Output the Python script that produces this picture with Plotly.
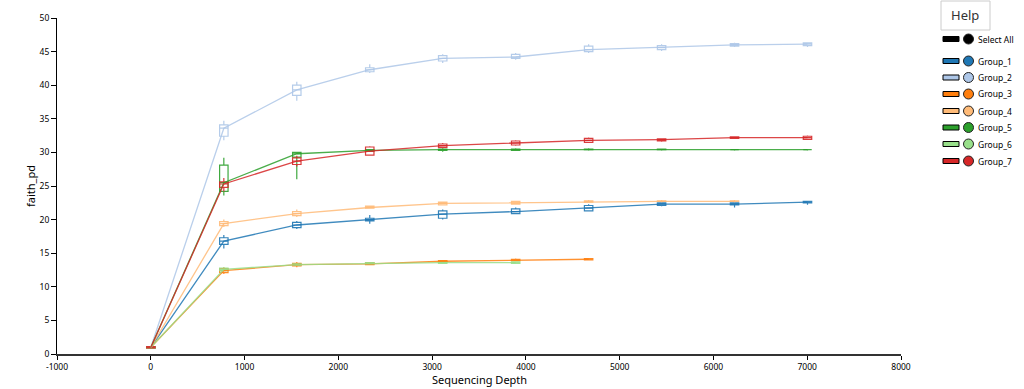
import plotly.graph_objects as go

# ---------------- data ----------------
DEPTHS = [1, 779, 1557, 2335, 3113, 3891, 4669, 5447, 6225, 7003]
GROUPS = ["Group_1", "Group_2", "Group_3", "Group_4", "Group_5", "Group_6", "Group_7"]
COLORS = ["#1f77b4", "#aec7e8", "#ff7f0e", "#ffbb78", "#2ca02c", "#98df8a", "#d62728"]

MEDIAN = {
    "Group_1": [1.0, 16.8, 19.2, 20.0, 20.8, 21.2, 21.7, 22.3, 22.3, 22.6],
    "Group_2": [1.0, 33.6, 39.3, 42.3, 44.0, 44.2, 45.3, 45.6, 46.0, 46.1],
    "Group_3": [1.0, 12.4, 13.3, 13.4, 13.8, 14.0, 14.1],
    "Group_4": [1.0, 19.4, 20.9, 21.8, 22.4, 22.5, 22.7, 22.7, 22.7],
    "Group_5": [1.0, 25.5, 29.8, 30.3, 30.4, 30.4, 30.4, 30.4, 30.4, 30.4],
    "Group_6": [1.0, 12.6, 13.3, 13.5, 13.6, 13.6],
    "Group_7": [1.0, 25.3, 28.7, 30.2, 31.0, 31.4, 31.8, 31.9, 32.2, 32.2],
}
Q1 = {
    "Group_1": [0.9, 16.3, 18.8, 19.8, 20.2, 20.9, 21.3, 22.1, 22.2, 22.5],
    "Group_2": [0.9, 32.4, 38.5, 42.0, 43.6, 44.0, 45.0, 45.3, 45.8, 45.9],
    "Group_3": [0.9, 12.1, 13.1, 13.3, 13.7, 13.9, 14.0],
    "Group_4": [0.9, 19.1, 20.6, 21.7, 22.2, 22.3, 22.6, 22.7, 22.7],
    "Group_5": [0.9, 24.2, 29.3, 30.2, 30.3, 30.3, 30.4, 30.4, 30.4, 30.4],
    "Group_6": [0.9, 12.4, 13.2, 13.4, 13.5, 13.5],
    "Group_7": [0.9, 24.8, 28.2, 29.6, 30.75, 31.1, 31.5, 31.7, 32.1, 31.95],
}
Q3 = {
    "Group_1": [1.1, 17.3, 19.6, 20.2, 21.3, 21.6, 22.1, 22.5, 22.5, 22.7],
    "Group_2": [1.1, 34.1, 40.0, 42.6, 44.4, 44.6, 45.8, 45.9, 46.2, 46.3],
    "Group_3": [1.1, 12.7, 13.5, 13.6, 13.9, 14.1, 14.2],
    "Group_4": [1.1, 19.7, 21.2, 22.0, 22.6, 22.7, 22.8, 22.8, 22.8],
    "Group_5": [1.1, 28.1, 30.0, 30.4, 30.5, 30.5, 30.5, 30.5, 30.4, 30.4],
    "Group_6": [1.1, 12.8, 13.4, 13.6, 13.7, 13.7],
    "Group_7": [1.1, 25.6, 29.2, 30.8, 31.25, 31.7, 32.1, 32.0, 32.3, 32.4],
}
LOW = {
    "Group_1": [0.9, 15.7, 18.6, 19.4, 20.0, 20.8, 21.2, 22.0, 21.8, 22.2],
    "Group_2": [0.9, 31.8, 37.7, 41.8, 43.3, 43.8, 44.8, 45.1, 45.7, 45.7],
    "Group_3": [0.9, 11.9, 12.9, 13.2, 13.6, 13.8, 14.0],
    "Group_4": [0.9, 18.9, 20.4, 21.6, 22.1, 22.2, 22.5, 22.6, 22.6],
    "Group_5": [0.9, 23.6, 26.0, 30.1, 30.1, 30.3, 30.3, 30.3, 30.3, 30.3],
    "Group_6": [0.9, 12.3, 13.1, 13.3, 13.4, 13.4],
    "Group_7": [0.9, 24.2, 27.9, 29.5, 30.6, 31.0, 31.4, 31.6, 32.0, 31.9],
}
HIGH = {
    "Group_1": [1.1, 17.7, 19.8, 20.7, 21.5, 21.8, 22.3, 22.6, 22.6, 22.8],
    "Group_2": [1.1, 34.7, 40.5, 43.1, 44.6, 44.8, 46.1, 46.1, 46.3, 46.4],
    "Group_3": [1.1, 12.9, 13.7, 13.7, 14.0, 14.2, 14.2],
    "Group_4": [1.1, 20.0, 21.5, 22.1, 22.7, 22.8, 22.9, 22.9, 22.9],
    "Group_5": [1.1, 29.2, 30.1, 30.5, 30.6, 30.6, 30.6, 30.5, 30.5, 30.5],
    "Group_6": [1.1, 12.9, 13.5, 13.7, 13.8, 13.8],
    "Group_7": [1.1, 26.2, 29.5, 30.9, 31.4, 31.8, 32.2, 32.1, 32.3, 32.5],
}

X_TICKS = [-1000, 0, 1000, 2000, 3000, 4000, 5000, 6000, 7000, 8000]
X_TICK_LABELS = ["-1000", "0", "1000", "2000", "3000", "4000", "5000", "6000", "7000", "8000"]
Y_TICKS = [0, 5, 10, 15, 20, 25, 30, 35, 40, 45, 50]
X_TITLE = "Sequencing Depth"
Y_TITLE = "faith_pd"

# ---------------- figure ----------------
fig = go.Figure()
for g, c in zip(GROUPS, COLORS):
    n = len(MEDIAN[g])
    xs = DEPTHS[:n]
    fig.add_trace(go.Scatter(
        x=xs, y=MEDIAN[g], mode="lines", line=dict(color=c, width=1.3),
        opacity=0.85, showlegend=False, hoverinfo="skip"))
    fig.add_trace(go.Box(
        x=xs, q1=Q1[g], median=MEDIAN[g], q3=Q3[g],
        lowerfence=LOW[g], upperfence=HIGH[g],
        width=90, whiskerwidth=0, boxpoints=False,
        line=dict(color=c, width=1.2), fillcolor="rgba(255,255,255,0)",
        opacity=0.9, showlegend=False, hoverinfo="skip"))

L, R, T, B = 57, 901, 18, 354
W, H = 1024, 389
FONT = "Segoe UI, Noto Sans, Open Sans, sans-serif"


def px(x):
    return (x - L) / (R - L)


def py(y):
    return (B - y) / (B - T)


shapes = []
annotations = []
# Help button
shapes.append(dict(type="rect", xref="paper", yref="paper",
                   x0=px(941), x1=px(990), y0=py(30), y1=py(1),
                   line=dict(color="#cccccc", width=1), fillcolor="white"))
annotations.append(dict(xref="paper", yref="paper", x=px(965.5), y=py(15.5),
                        text="Help", showarrow=False, xanchor="center", yanchor="middle",
                        font=dict(size=13, color="#333333", family=FONT)))

legend_items = [("Select All", "#000000")] + list(zip(GROUPS, COLORS))
legend_y = [39, 61, 77.5, 94, 111, 127.5, 144, 161]
for (name, col), yy in zip(legend_items, legend_y):
    shapes.append(dict(type="rect", xref="paper", yref="paper",
                       x0=px(943), x1=px(959), y0=py(yy + 2.5), y1=py(yy - 2.5),
                       line=dict(color="#000000", width=1), fillcolor=col))
    shapes.append(dict(type="circle", xref="paper", yref="paper",
                       x0=px(963.5), x1=px(973.5), y0=py(yy + 5), y1=py(yy - 5),
                       line=dict(color="#222222", width=1), fillcolor=col))
    annotations.append(dict(xref="paper", yref="paper", x=px(976), y=py(yy),
                            text=name, showarrow=False, xanchor="left", yanchor="middle",
                            font=dict(size=8.5, color="#000000", family=FONT)))

# axis titles
annotations.append(dict(xref="paper", yref="paper", x=px(479), y=py(379),
                        text=X_TITLE, showarrow=False, xanchor="center", yanchor="middle",
                        font=dict(size=11, color="#000000", family=FONT)))
annotations.append(dict(xref="paper", yref="paper", x=px(30), y=py(186),
                        text=Y_TITLE, showarrow=False, textangle=-90,
                        xanchor="center", yanchor="middle",
                        font=dict(size=11, color="#000000", family=FONT)))

fig.update_layout(
    width=W, height=H,
    margin=dict(l=L, r=W - R, t=T, b=H - B, autoexpand=False),
    paper_bgcolor="white", plot_bgcolor="white",
    boxmode="overlay",
    showlegend=False,
    shapes=shapes, annotations=annotations,
    font=dict(family=FONT, color="#000000"),
    xaxis=dict(range=[-1000, 8000], tickvals=X_TICKS, ticktext=X_TICK_LABELS,
               ticks="outside", ticklen=4,
               tickcolor="#000", showgrid=False, zeroline=False, showline=True,
               linecolor="#333333", linewidth=1.5, tickfont=dict(size=8.5),
               automargin=False),
    yaxis=dict(range=[0, 50], tickvals=Y_TICKS, ticks="outside", ticklen=5,
               tickcolor="#000", showgrid=False, zeroline=False, showline=True,
               linecolor="#000000", linewidth=1, tickfont=dict(size=8.5),
               automargin=False),
)

fig.write_html(
    "out.html",
    config={"displayModeBar": False},
    post_script="document.body.style.margin='0';document.body.style.overflow='hidden';",
)
